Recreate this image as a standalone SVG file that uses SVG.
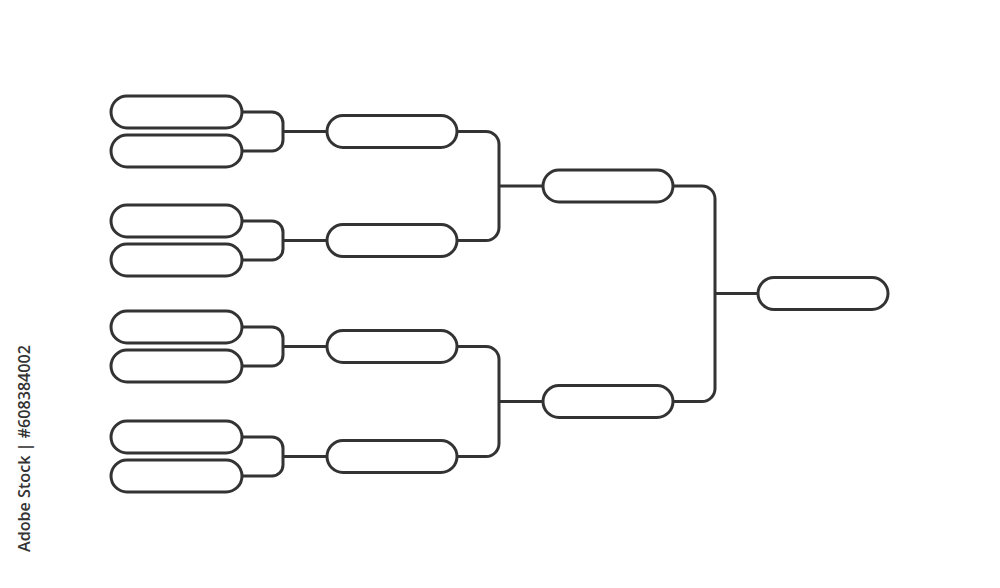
<svg xmlns="http://www.w3.org/2000/svg" width="1000" height="588" viewBox="0 0 1000 588">
<style>
.b{fill:#fff;stroke:#333;stroke-width:3}
.c{fill:none;stroke:#333;stroke-width:3}
.wm{font-family:"Open Sans","Liberation Sans",sans-serif;font-size:17px;font-weight:600;fill:#333}
</style>
<rect width="1000" height="588" fill="#fff"/>
<g id="connectors" class="c">
<path d="M242 112H272A11 11 0 0 1 283 123V140A11 11 0 0 1 272 151H242M283 131.5H327"/>
<path d="M242 221H272A11 11 0 0 1 283 232V249A11 11 0 0 1 272 260H242M283 240.5H327"/>
<path d="M242 327H272A11 11 0 0 1 283 338V355A11 11 0 0 1 272 366H242M283 346.5H327"/>
<path d="M242 437H272A11 11 0 0 1 283 448V465A11 11 0 0 1 272 476H242M283 456.5H327"/>
<path d="M457 131.5H486A13 13 0 0 1 499 144.5V227.5A13 13 0 0 1 486 240.5H457M499 186H543"/>
<path d="M457 346.5H486A13 13 0 0 1 499 359.5V443.5A13 13 0 0 1 486 456.5H457M499 401.5H543"/>
<path d="M673 186H702A13 13 0 0 1 715 199V388.5A13 13 0 0 1 702 401.5H673M715 293.5H758"/>
</g>
<g id="r1-1"><rect class="b" x="111" y="96" width="131" height="32" rx="16"/></g>
<g id="r1-2"><rect class="b" x="111" y="135" width="131" height="32" rx="16"/></g>
<g id="r1-3"><rect class="b" x="111" y="205" width="131" height="32" rx="16"/></g>
<g id="r1-4"><rect class="b" x="111" y="244" width="131" height="32" rx="16"/></g>
<g id="r1-5"><rect class="b" x="111" y="311" width="131" height="32" rx="16"/></g>
<g id="r1-6"><rect class="b" x="111" y="350" width="131" height="32" rx="16"/></g>
<g id="r1-7"><rect class="b" x="111" y="421" width="131" height="32" rx="16"/></g>
<g id="r1-8"><rect class="b" x="111" y="460" width="131" height="32" rx="16"/></g>
<g id="r2-1"><rect class="b" x="327" y="115.5" width="130" height="32" rx="16"/></g>
<g id="r2-2"><rect class="b" x="327" y="224.5" width="130" height="32" rx="16"/></g>
<g id="r2-3"><rect class="b" x="327" y="330.5" width="130" height="32" rx="16"/></g>
<g id="r2-4"><rect class="b" x="327" y="440.5" width="130" height="32" rx="16"/></g>
<g id="r3-1"><rect class="b" x="543" y="170" width="130" height="32" rx="16"/></g>
<g id="r3-2"><rect class="b" x="543" y="385.5" width="130" height="32" rx="16"/></g>
<g id="final"><rect class="b" x="758" y="277.5" width="130" height="32" rx="16"/></g>
<text class="wm" transform="translate(30 552) rotate(-90)" textLength="207" lengthAdjust="spacingAndGlyphs">Adobe Stock | #608384002</text>
</svg>
